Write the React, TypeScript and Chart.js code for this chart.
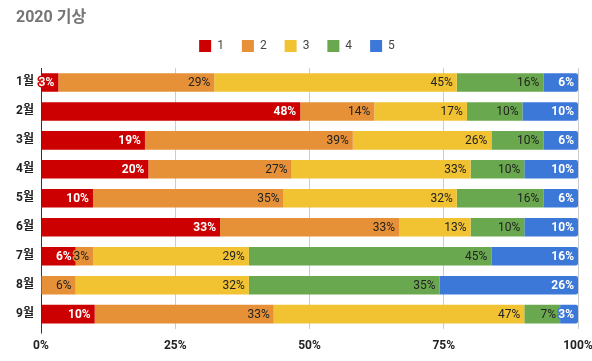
import React, { useEffect, useRef } from "react";
import { Chart, registerables } from "chart.js";

Chart.register(...registerables);

const months = ["1월", "2월", "3월", "4월", "5월", "6월", "7월", "8월", "9월"];
const seriesNames = ["1", "2", "3", "4", "5"];
const colors = ["#cc0000", "#e69138", "#f1c232", "#6aa84f", "#3c78d8"];
const labelColors = ["#ffffff", "#222222", "#222222", "#222222", "#ffffff"];
const labelBold = [true, false, false, false, true];

// day counts per month for each category
const s1 = [1, 14, 6, 6, 3, 10, 2, 0, 3];
const s2 = [9, 4, 12, 8, 11, 10, 1, 2, 10];
const s3 = [14, 5, 8, 10, 10, 4, 9, 10, 14];
const s4 = [5, 3, 3, 3, 5, 3, 14, 11, 2];
const s5 = [2, 3, 2, 3, 2, 3, 5, 8, 1];
const xTicks = [0, 25, 50, 75, 100];

const FONT = "Roboto, 'Noto Sans CJK KR', sans-serif";

const allSeries = [s1, s2, s3, s4, s5];
const totals = months.map((_, i) => allSeries.reduce((a, s) => a + s[i], 0));
const percents = allSeries.map((s) => s.map((v, i) => (v / totals[i]) * 100));

const legendMargin = {
  id: "legendMargin",
  beforeInit(chart: any) {
    const legend = chart.legend;
    if (!legend) return;
    const fit = legend.fit;
    legend.fit = function () {
      fit.call(legend);
      this.height += 6;
    };
  },
};

const barLabels = {
  id: "barLabels",
  afterDatasetsDraw(chart: any) {
    const ctx = chart.ctx;
    ctx.save();
    chart.data.datasets.forEach((ds: any, di: number) => {
      const meta = chart.getDatasetMeta(di);
      meta.data.forEach((el: any, j: number) => {
        const v = ds.data[j];
        if (!v) return;
        const text = Math.round(v) + "%";
        ctx.font = `${labelBold[di] ? "bold " : ""}12px ${FONT}`;
        ctx.textAlign = "right";
        ctx.textBaseline = "middle";
        const x = el.x - 4;
        const y = el.y + 1;
        ctx.lineWidth = 3;
        ctx.lineJoin = "round";
        ctx.strokeStyle = colors[di];
        ctx.strokeText(text, x, y);
        ctx.fillStyle = labelColors[di];
        ctx.fillText(text, x, y);
      });
    });
    ctx.restore();
  },
};

export default function App() {
  const ref = useRef<HTMLCanvasElement | null>(null);
  useEffect(() => {
    if (!ref.current) return;
    const chart = new Chart(ref.current, {
      type: "bar",
      data: {
        labels: months,
        datasets: seriesNames.map((name, i) => ({
          label: name,
          data: percents[i],
          backgroundColor: colors[i],
          borderWidth: 0,
          borderRadius: i === 4 ? { topRight: 2, bottomRight: 2, topLeft: 0, bottomLeft: 0 } : 0,
          borderSkipped: false,
          categoryPercentage: 1,
          barPercentage: 0.64,
        })),
      },
      options: {
        indexAxis: "y",
        animation: false,
        responsive: false,
        layout: { padding: { left: 16, right: 14, top: 0, bottom: 3 } },
        plugins: {
          title: {
            display: true,
            text: "2020 기상",
            align: "start",
            color: "#757575",
            font: { family: FONT, size: 16, weight: "bold", lineHeight: 0.5 },
            padding: { top: 14, bottom: 0 },
          },
          legend: {
            display: true,
            position: "top",
            align: "center",
            labels: {
              boxWidth: 12,
              boxHeight: 12,
              padding: 18,
              color: "#444",
              font: { family: FONT, size: 12 },
            },
          },
          tooltip: { enabled: false },
        },
        scales: {
          x: {
            stacked: true,
            min: 0,
            max: 100,
            afterBuildTicks(scale: any) {
              scale.ticks = xTicks.map((v) => ({ value: v }));
            },
            afterFit(scale: any) {
              scale.paddingRight = 0;
              scale.paddingLeft = 0;
            },
            ticks: {
              callback: (v: any) => v + "%",
              color: "#222",
              font: { family: FONT, size: 12, weight: "bold" },
              padding: 5,
              maxRotation: 0,
            },
            grid: {
              color: (c: any) => (c.tick && c.tick.value === 0 ? "#333" : "#cccccc"),
              tickColor: (c: any) => (c.tick && c.tick.value === 0 ? "#333" : "rgba(0,0,0,0)"),
              drawTicks: true,
              tickLength: 5,
            },
            border: { display: false },
          },
          y: {
            stacked: true,
            afterFit(scale: any) {
              scale.width = 25;
            },
            ticks: {
              color: "#222",
              font: { family: FONT, size: 12, weight: "bold" },
              padding: 7,
            },
            grid: { display: false, drawTicks: false },
            border: { display: false },
          },
        },
      },
      plugins: [legendMargin, barLabels],
    });
    return () => chart.destroy();
  }, []);
  return (
    <div style={{ position: "absolute", left: 0, top: 0, width: 592, height: 361 }}>
      <canvas ref={ref} width={592} height={361} style={{ display: "block" }} />
    </div>
  );
}
